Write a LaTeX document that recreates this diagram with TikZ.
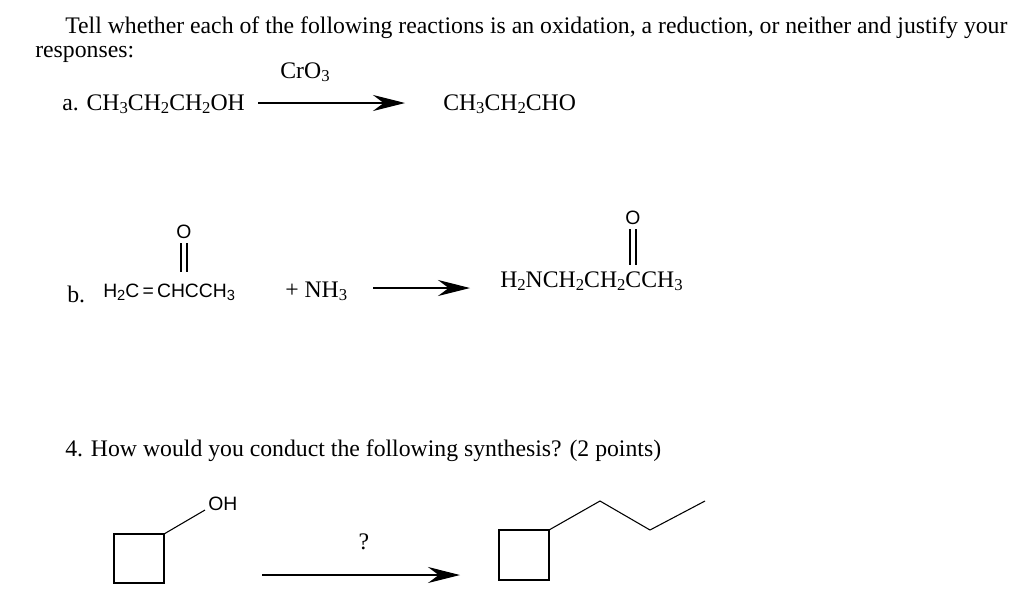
\documentclass[tikz,border=0pt]{standalone}
\usepackage{fontspec}
\setmainfont{Liberation Serif}
\newfontfamily\molfont{Liberation Sans}
\usetikzlibrary{arrows.meta}
\newcommand{\chs}[1]{\raisebox{-0.35ex}{\fontsize{12.5}{12}\selectfont #1}}
\newcommand{\chm}[1]{\raisebox{-0.35ex}{\fontsize{11}{11}\selectfont #1}}
\tikzset{
  txt/.style={inner sep=0pt, font=\fontsize{17.8}{20}\selectfont, anchor=base west},
  mol/.style={inner sep=0pt, font=\molfont\fontsize{14.5}{16}\selectfont, anchor=base west},
  rxn/.style={line width=0.8pt, -{Stealth[length=24pt,width=12pt,inset=8pt]}},
  bond/.style={line width=0.8pt},
}
\begin{document}
\begin{tikzpicture}[x=0.75pt,y=-0.75pt]
\useasboundingbox (0,0) rectangle (1024,607);
\node[txt] (t1) at (65,33) {Tell whether each of the following reactions is an oxidation, a reduction, or neither and justify your};
\node[txt] (t2) at (35,57) {responses:};
\node[txt,anchor=base] (cro) at (305,78) {CrO\chs{3}};
\node[txt] (a1) at (62,110) {a. CH\chs{3}CH\chs{2}CH\chs{2}OH};
\node[txt] (a2) at (443,110) {CH\chs{3}CH\chs{2}CHO};
\coordinate (aa) at (258,103); \coordinate (ab) at (405,103);
\draw[rxn] (aa) -- (ab);

\node[txt] (bl) at (67,302) {b.};
\node[mol] (b1) at (103,297) {H\chm{2}C\,=\,CHCCH\chm{3}};
\node[mol,anchor=base] (bo) at (184,238) {O};
\coordinate (bo1) at (181,243); \coordinate (bo2) at (181,272);
\coordinate (bo3) at (187,243); \coordinate (bo4) at (187,272);
\draw[bond] (bo1) -- (bo2) (bo3) -- (bo4);
\node[txt] (nh) at (285,297) {+ NH\chs{3}};
\coordinate (ba) at (373,288); \coordinate (bb) at (470,288);
\draw[rxn] (ba) -- (bb);
\node[txt] (b2) at (500,287) {H\chs{2}NCH\chs{2}CH\chs{2}CCH\chs{3}};
\node[mol,anchor=base] (po) at (633,224) {O};
\coordinate (po1) at (630,229); \coordinate (po2) at (630,265);
\coordinate (po3) at (636,229); \coordinate (po4) at (636,265);
\draw[bond] (po1) -- (po2) (po3) -- (po4);

\node[txt] (q4) at (65,456) {4. How would you conduct the following synthesis? (2 points)};
\draw[bond] (114,534) rectangle (164,583);
\coordinate (s1) at (164,534); \coordinate (s2) at (205,510);
\draw[bond] (s1) -- (s2);
\node[mol] (oh) at (208,510) {OH};
\node[txt,anchor=base] (qm) at (364,549) {?};
\coordinate (ca) at (262,575); \coordinate (cb) at (460,575);
\draw[rxn] (ca) -- (cb);
\draw[bond] (499,530) rectangle (549,580);
\coordinate (r1) at (549,530); \coordinate (r2) at (600,501);
\coordinate (r3) at (650,530); \coordinate (r4) at (705,501);
\draw[bond] (r1) -- (r2) -- (r3) -- (r4);
\end{tikzpicture}
\end{document}
